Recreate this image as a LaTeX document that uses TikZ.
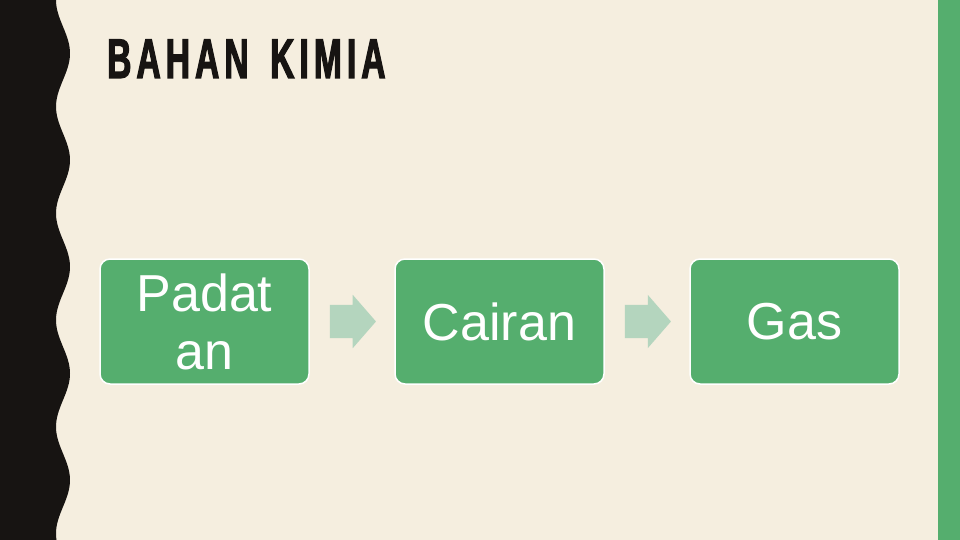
\documentclass[tikz,border=0pt]{standalone}
\usepackage{fontspec}
\setmainfont{Liberation Sans}
\newfontfamily\titlefont[FakeStretch=0.6, LetterSpace=9, FakeBold=2, WordSpace=1.5]{Liberation Sans Bold}
\usepackage{tikz}
\usetikzlibrary{positioning, shapes.arrows}

\definecolor{cream}{HTML}{F5EEDF}
\definecolor{ink}{HTML}{171412}
\definecolor{boxgreen}{HTML}{55AE6E}
\definecolor{arrowgreen}{HTML}{B4D5BE}

\tikzset{
  stagebox/.style={draw=white, line width=1.5pt, fill=boxgreen, rounded corners=10pt,
    minimum width=209pt, minimum height=125pt, inner sep=0pt, align=center,
    text=white, font=\fontsize{52}{58}\selectfont},
  flowarrow/.style={single arrow, fill=arrowgreen, inner xsep=0pt, inner ysep=16.5pt,
    minimum height=46pt, minimum width=0pt, single arrow head extend=10pt,
    single arrow tip angle=98}
}

\begin{document}
\begin{tikzpicture}[x=1pt, y=-1pt]
\useasboundingbox (0,0) rectangle (960,540);
% background and side bands
\fill[cream] (0,0) rectangle (960,540);
\fill[ink] (0,0) -- plot[domain=0:540, samples=160, variable=\t] ({63-7*cos(\t*3.3739)}, \t) -- (0,540) -- cycle;
\fill[boxgreen] (938,0) rectangle (960,540);

% title
\node[anchor=base west, inner sep=0pt, text=ink, font=\titlefont\fontsize{56}{60}\selectfont] (title) at (107,78) {BAHAN KIMIA};

% stages
\node[stagebox] (padatan) at (204.5,321.5) {Padat\\an};
\node[stagebox, right=84.5pt of padatan] (cairan) {Cairan};
\node[stagebox, right=84.5pt of cairan] (gas) {Gas};

% arrows between stages
\node[flowarrow, right=20pt of padatan] (arrow1) {};
\node[flowarrow, right=20pt of cairan] (arrow2) {};

\end{tikzpicture}
\end{document}
